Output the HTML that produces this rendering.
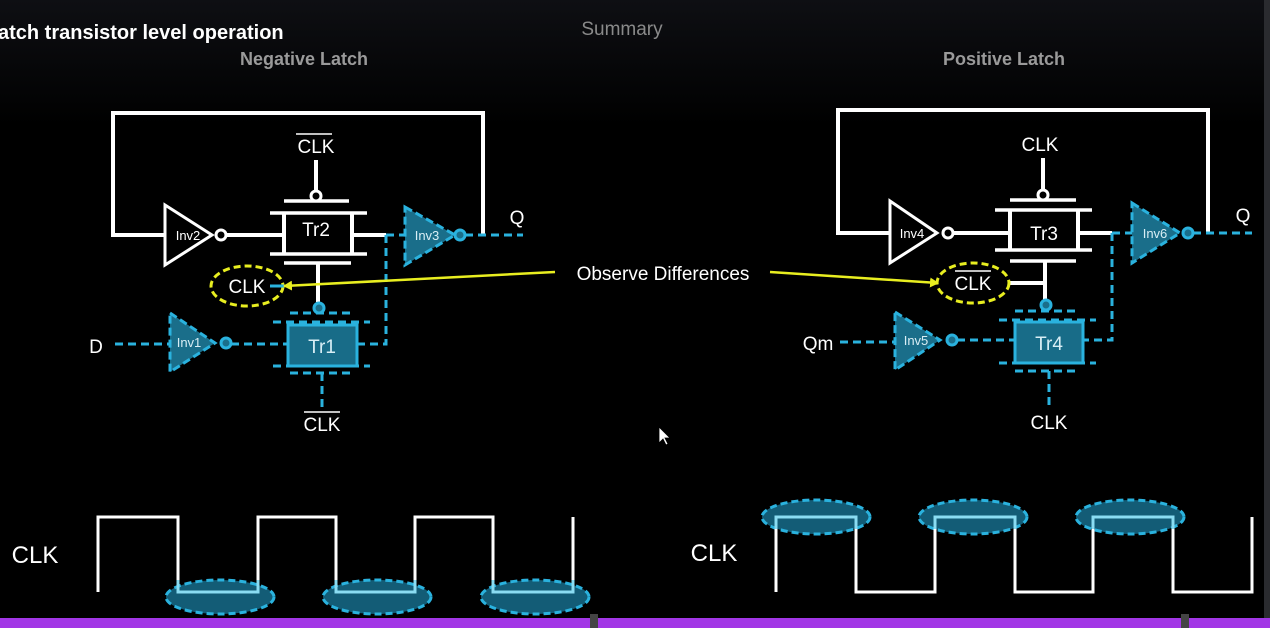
<!DOCTYPE html>
<html><head><meta charset="utf-8"><style>
html,body{margin:0;padding:0;background:#000;width:1270px;height:628px;overflow:hidden}
svg{display:block}
text{font-family:"Liberation Sans","DejaVu Sans",sans-serif}
</style></head><body>
<svg width="1270" height="628" viewBox="0 0 1270 628" xmlns="http://www.w3.org/2000/svg">
<defs>
<linearGradient id="bg" x1="0" y1="0" x2="0" y2="1"><stop offset="0" stop-color="#0e0f13"/><stop offset="0.2" stop-color="#000"/></linearGradient>
<marker id="ah" markerWidth="10" markerHeight="10" refX="8" refY="5" orient="auto" markerUnits="userSpaceOnUse"><path d="M0,0 L9,5 L0,10 z" fill="#e8ee20"/></marker>
</defs>
<rect width="1270" height="628" fill="url(#bg)"/>
<rect x="1264" y="0" width="6" height="618" fill="#2a2b2f"/>
<rect x="0" y="618" width="1270" height="10" fill="#a236e6"/>
<rect x="590" y="614" width="8" height="14" fill="#444"/>
<rect x="1181" y="614" width="8" height="14" fill="#444"/>

<text x="-2" y="39" fill="#fff" font-size="20" font-weight="bold">atch transistor level operation</text>
<text x="622" y="35" fill="#8a8a8a" font-size="19" text-anchor="middle">Summary</text>
<text x="304" y="65" fill="#9a9a9a" font-size="18" font-weight="bold" text-anchor="middle">Negative Latch</text>
<text x="1004" y="65" fill="#9a9a9a" font-size="18" font-weight="bold" text-anchor="middle">Positive Latch</text>

<!-- ===== LEFT LATCH ===== -->
<g stroke="#fff" stroke-width="4" fill="none">
<polyline points="165,235 113,235 113,113 483,113 483,235"/>
<polygon points="165,205 212,235 165,265" stroke-width="3"/>
<line x1="226" y1="235" x2="283" y2="235"/>
<line x1="270" y1="213" x2="367" y2="213" stroke-width="3.5"/>
<line x1="270" y1="254" x2="367" y2="254" stroke-width="3.5"/>
<line x1="284" y1="213" x2="284" y2="254"/>
<line x1="352" y1="213" x2="352" y2="254"/>
<line x1="284" y1="201" x2="349" y2="201" stroke-width="3.5"/>
<line x1="316" y1="160" x2="316" y2="192"/>
<line x1="284" y1="263" x2="351" y2="263" stroke-width="3.5"/>
<line x1="318" y1="263" x2="318" y2="302"/>
<line x1="352" y1="235" x2="386" y2="235"/>
</g>
<circle cx="221" cy="235" r="5" stroke="#fff" stroke-width="3" fill="#000"/>
<circle cx="316" cy="196" r="5" stroke="#fff" stroke-width="3" fill="#000"/>
<text x="316" y="231" fill="#fff" font-size="19" text-anchor="middle" dominant-baseline="middle">Tr2</text>
<text x="188" y="240" fill="#fff" font-size="13" text-anchor="middle">Inv2</text>
<text x="316" y="153" fill="#fff" font-size="19" text-anchor="middle">CLK</text>
<line x1="296" y1="134" x2="332" y2="134" stroke="#fff" stroke-width="1.5"/>

<g stroke="#2ab2de" stroke-width="3" stroke-dasharray="8,5" fill="none">
<line x1="386" y1="235" x2="405" y2="235"/>
<line x1="465" y1="235" x2="523" y2="235"/>
<polyline points="386,235 386,344 358,344"/>
<line x1="115" y1="344" x2="170" y2="344"/>
<line x1="231" y1="344" x2="288" y2="344"/>
<line x1="273" y1="322" x2="370" y2="322"/>
<line x1="273" y1="366" x2="370" y2="366"/>
<line x1="290" y1="313" x2="350" y2="313"/>
<line x1="290" y1="373" x2="350" y2="373"/>
<line x1="322" y1="373" x2="322" y2="410"/>
</g>
<polygon points="405,207 455,235 405,265" fill="#1a6e8a" stroke="#2ab2de" stroke-width="3" stroke-dasharray="8,4"/>
<circle cx="460" cy="235" r="5" fill="#1a6e8a" stroke="#2ab2de" stroke-width="3"/>
<text x="427" y="240" fill="#d8eef5" font-size="13" text-anchor="middle">Inv3</text>
<polygon points="170,313 215,343 170,372" fill="#1a6e8a" stroke="#2ab2de" stroke-width="3" stroke-dasharray="8,4"/>
<circle cx="226" cy="343" r="5" fill="#1a6e8a" stroke="#2ab2de" stroke-width="3"/>
<text x="189" y="347" fill="#d8eef5" font-size="13" text-anchor="middle">Inv1</text>
<rect x="288" y="325" width="69" height="41" fill="#186c88" stroke="#2ab2de" stroke-width="3"/>
<text x="322" y="353" fill="#d8eef5" font-size="19" text-anchor="middle">Tr1</text>
<circle cx="319" cy="308" r="5" fill="#1a6e8a" stroke="#2ab2de" stroke-width="3"/>
<text x="517" y="224" fill="#fff" font-size="19" text-anchor="middle">Q</text>
<text x="96" y="353" fill="#fff" font-size="19" text-anchor="middle">D</text>
<text x="322" y="431" fill="#fff" font-size="19" text-anchor="middle">CLK</text>
<line x1="304" y1="412" x2="340" y2="412" stroke="#fff" stroke-width="1.5"/>

<ellipse cx="247" cy="286" rx="36" ry="20" fill="#000" stroke="#e8ee20" stroke-width="3" stroke-dasharray="7,4"/>
<text x="247" y="293" fill="#fff" font-size="19" text-anchor="middle">CLK</text>
<line x1="270" y1="286" x2="284" y2="286" stroke="#2ab2de" stroke-width="3"/>
<line x1="555" y1="272" x2="284" y2="286" stroke="#e8ee20" stroke-width="2.5" marker-end="url(#ah)"/>

<text x="663" y="280" fill="#fff" font-size="19" text-anchor="middle">Observe Differences</text>

<!-- ===== RIGHT LATCH ===== -->
<g stroke="#fff" stroke-width="4" fill="none">
<polyline points="890,233 838,233 838,110 1208,110 1208,233"/>
<polygon points="890,201 937,233 890,263" stroke-width="3"/>
<line x1="953" y1="233" x2="1009" y2="233"/>
<line x1="995" y1="210" x2="1092" y2="210" stroke-width="3.5"/>
<line x1="995" y1="250" x2="1092" y2="250" stroke-width="3.5"/>
<line x1="1010" y1="210" x2="1010" y2="250"/>
<line x1="1078" y1="210" x2="1078" y2="250"/>
<line x1="1010" y1="200" x2="1076" y2="200" stroke-width="3.5"/>
<line x1="1043" y1="158" x2="1043" y2="190"/>
<line x1="1010" y1="261" x2="1076" y2="261" stroke-width="3.5"/>
<line x1="1045" y1="261" x2="1045" y2="300"/>
<line x1="1000" y1="283" x2="1045" y2="283"/>
<line x1="1078" y1="233" x2="1112" y2="233"/>
</g>
<circle cx="948" cy="233" r="5" stroke="#fff" stroke-width="3" fill="#000"/>
<circle cx="1043" cy="195" r="5" stroke="#fff" stroke-width="3" fill="#000"/>
<text x="1044" y="240" fill="#fff" font-size="19" text-anchor="middle">Tr3</text>
<text x="912" y="238" fill="#fff" font-size="13" text-anchor="middle">Inv4</text>
<text x="1040" y="151" fill="#fff" font-size="19" text-anchor="middle">CLK</text>

<g stroke="#2ab2de" stroke-width="3" stroke-dasharray="8,5" fill="none">
<line x1="1112" y1="233" x2="1132" y2="233"/>
<line x1="1193" y1="233" x2="1252" y2="233"/>
<polyline points="1112,233 1112,340 1084,340"/>
<line x1="840" y1="342" x2="895" y2="342"/>
<line x1="957" y1="340" x2="1015" y2="340"/>
<line x1="999" y1="320" x2="1096" y2="320"/>
<line x1="999" y1="363" x2="1096" y2="363"/>
<line x1="1015" y1="311" x2="1077" y2="311"/>
<line x1="1015" y1="371" x2="1077" y2="371"/>
<line x1="1049" y1="371" x2="1049" y2="408"/>
</g>
<polygon points="1132,203 1180,233 1132,263" fill="#1a6e8a" stroke="#2ab2de" stroke-width="3" stroke-dasharray="8,4"/>
<circle cx="1188" cy="233" r="5" fill="#1a6e8a" stroke="#2ab2de" stroke-width="3"/>
<text x="1155" y="238" fill="#d8eef5" font-size="13" text-anchor="middle">Inv6</text>
<polygon points="895,312 940,340 895,370" fill="#1a6e8a" stroke="#2ab2de" stroke-width="3" stroke-dasharray="8,4"/>
<circle cx="952" cy="340" r="5" fill="#1a6e8a" stroke="#2ab2de" stroke-width="3"/>
<text x="916" y="345" fill="#d8eef5" font-size="13" text-anchor="middle">Inv5</text>
<rect x="1015" y="322" width="68" height="41" fill="#186c88" stroke="#2ab2de" stroke-width="3"/>
<text x="1049" y="350" fill="#d8eef5" font-size="19" text-anchor="middle">Tr4</text>
<circle cx="1046" cy="305" r="5" fill="#1a6e8a" stroke="#2ab2de" stroke-width="3"/>
<text x="1243" y="222" fill="#fff" font-size="19" text-anchor="middle">Q</text>
<text x="818" y="350" fill="#fff" font-size="19" text-anchor="middle">Qm</text>
<text x="1049" y="429" fill="#fff" font-size="19" text-anchor="middle">CLK</text>

<ellipse cx="973" cy="283" rx="36" ry="20" fill="#000" stroke="#e8ee20" stroke-width="3" stroke-dasharray="7,4"/>
<text x="973" y="290" fill="#fff" font-size="19" text-anchor="middle">CLK</text>
<line x1="955" y1="271" x2="991" y2="271" stroke="#fff" stroke-width="1.5"/>
<line x1="770" y1="272" x2="938" y2="283" stroke="#e8ee20" stroke-width="2.5" marker-end="url(#ah)"/>

<!-- ===== WAVEFORMS ===== -->
<text x="35" y="563" fill="#fff" font-size="24" text-anchor="middle">CLK</text>
<g fill="#135c76" stroke="#2ab2de" stroke-width="3" stroke-dasharray="7,4">
<ellipse cx="220" cy="597" rx="54" ry="17"/>
<ellipse cx="377" cy="597" rx="54" ry="17"/>
<ellipse cx="535" cy="597" rx="54" ry="17"/>
</g>
<polyline points="98,592 98,517 178,517 178,592 258,592 258,517 336,517 336,592 415,592 415,517 493,517 493,592 573,592 573,517" fill="none" stroke="#fff" stroke-width="3"/>
<g stroke="#8adcf2" stroke-width="3" fill="none">
<polyline points="178,580 178,592 258,592 258,580"/>
<polyline points="336,580 336,592 415,592 415,580"/>
<polyline points="493,580 493,592 573,592 573,580"/>
</g>

<text x="714" y="561" fill="#fff" font-size="24" text-anchor="middle">CLK</text>
<g fill="#135c76" stroke="#2ab2de" stroke-width="3" stroke-dasharray="7,4">
<ellipse cx="816" cy="517" rx="54" ry="17"/>
<ellipse cx="973" cy="517" rx="54" ry="17"/>
<ellipse cx="1130" cy="517" rx="54" ry="17"/>
</g>
<polyline points="776,592 776,517 856,517 856,592 935,592 935,517 1015,517 1015,592 1093,592 1093,517 1173,517 1173,592 1252,592 1252,517" fill="none" stroke="#fff" stroke-width="3"/>
<g stroke="#8adcf2" stroke-width="3" fill="none">
<polyline points="776,529 776,517 856,517 856,529"/>
<polyline points="935,529 935,517 1015,517 1015,529"/>
<polyline points="1093,529 1093,517 1173,517 1173,529"/>
</g>
<path d="M659,427 L659,443 L663,439 L666,445 L668,444 L665,438 L670,438 z" fill="#fff" stroke="#000" stroke-width="0.8"/>
</svg>
</body></html>
